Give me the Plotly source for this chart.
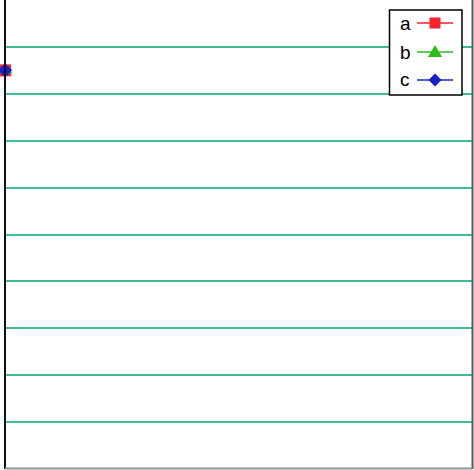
import plotly.graph_objects as go

# ---- data ----
series_names = ["a", "b", "c"]
series_colors = ["#ff1f2e", "#2cbf1a", "#1a1fcc"]
series_symbols = ["square", "triangle-up", "diamond"]
series_marker_sizes = [12, 13, 11]
x_values = [0]
a_values = [8.5]
b_values = [8.5]
c_values = [8.5]
series_values = [a_values, b_values, c_values]

W, H = 474, 470
ML, MR, MT, MB = 5, 2, 0, 1
PW, PH = W - ML - MR, H - MT - MB


def px(x):
    return (x - ML) / PW


def py(y):
    return 1 - (y - MT) / PH


fig = go.Figure()
for name, color, sym, msize, vals in zip(series_names, series_colors, series_symbols,
                                         series_marker_sizes, series_values):
    fig.add_trace(go.Scatter(
        x=x_values, y=vals, name=name, mode="lines+markers",
        line=dict(color=color, width=1.5),
        marker=dict(symbol=sym, size=msize, color=color),
        cliponaxis=False, showlegend=False,
    ))

shapes = []
annotations = []
# plot frame lines
shapes.append(dict(type="line", xref="paper", yref="paper", x0=px(5), x1=px(5), y0=0, y1=1,
                   line=dict(color="#111111", width=2)))
shapes.append(dict(type="line", xref="paper", yref="paper", x0=px(472.5), x1=px(472.5), y0=0, y1=1,
                   line=dict(color="#4d5e5a", width=2)))
shapes.append(dict(type="line", xref="paper", yref="paper", x0=0, x1=1, y0=py(468.5), y1=py(468.5),
                   line=dict(color="#8a9894", width=2)))

# custom legend (text left of symbol)
shapes.append(dict(type="rect", xref="paper", yref="paper", x0=px(389.5), x1=px(462), y0=py(10), y1=py(95),
                   line=dict(color="#000000", width=1.5), fillcolor="white", layer="above"))
row_y = [23, 52, 80]
for name, color, sym, ry in zip(series_names, series_colors, series_symbols, row_y):
    annotations.append(dict(x=px(405), y=py(ry), xref="paper", yref="paper", text=name, showarrow=False,
                            font=dict(family="Liberation Sans, Arial", size=19, color="#000000"),
                            xanchor="center", yanchor="middle"))
    shapes.append(dict(type="line", xref="paper", yref="paper", x0=px(417), x1=px(453), y0=py(ry), y1=py(ry),
                       line=dict(color=color, width=1.5), layer="above"))
    cx = 435
    if sym == "square":
        path = f"M{px(cx-5.5)},{py(ry-5.5)} L{px(cx+5.5)},{py(ry-5.5)} L{px(cx+5.5)},{py(ry+5.5)} L{px(cx-5.5)},{py(ry+5.5)} Z"
    elif sym == "triangle-up":
        path = f"M{px(cx)},{py(ry-7)} L{px(cx+7)},{py(ry+5)} L{px(cx-7)},{py(ry+5)} Z"
    else:
        path = f"M{px(cx)},{py(ry-6.5)} L{px(cx+6.5)},{py(ry)} L{px(cx)},{py(ry+6.5)} L{px(cx-6.5)},{py(ry)} Z"
    shapes.append(dict(type="path", xref="paper", yref="paper", path=path,
                       fillcolor=color, line=dict(color=color, width=0), layer="above"))

fig.update_layout(
    width=W, height=H,
    margin=dict(l=ML, r=MR, t=MT, b=MB, pad=0),
    paper_bgcolor="white", plot_bgcolor="white",
    showlegend=False,
    shapes=shapes, annotations=annotations,
    xaxis=dict(range=[0, 10], showgrid=False, zeroline=False, showticklabels=False, ticks="",
               showline=False),
    yaxis=dict(range=[0, 10], dtick=1, tick0=0, showgrid=True, gridcolor="#3fbd96", gridwidth=1.6,
               zeroline=False, showticklabels=False, ticks="", showline=False),
)

fig.write_html(
    "out.html",
    config={"displayModeBar": False},
    post_script="document.body.style.margin='0';document.body.style.padding='0';"
                "document.body.style.overflow='hidden';",
)
